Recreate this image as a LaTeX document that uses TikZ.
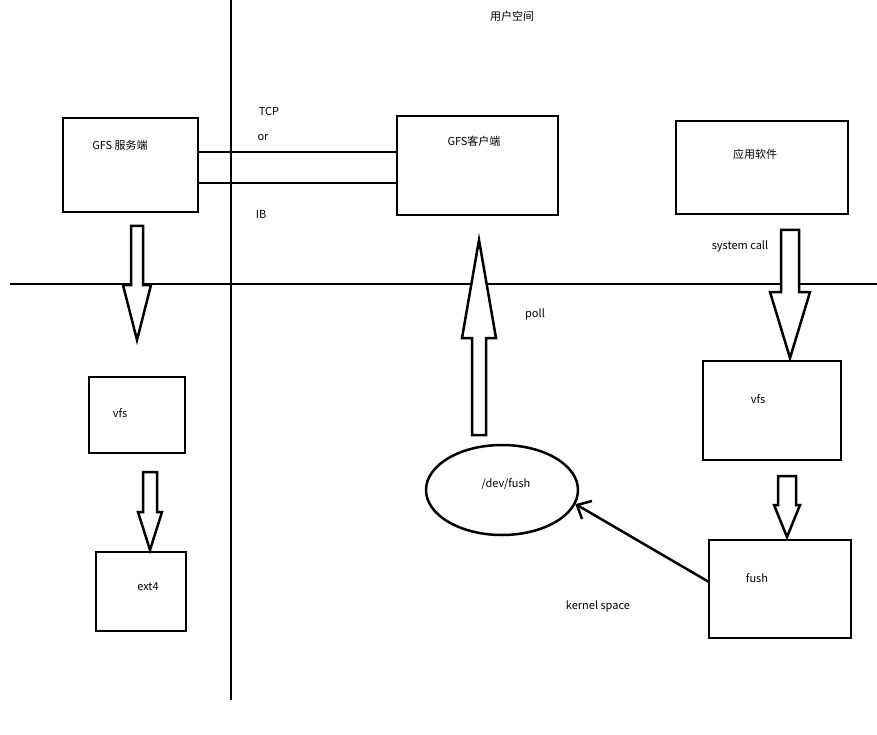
\documentclass[tikz,border=0pt]{standalone}
\usepackage{fontspec}
\setmainfont{Noto Sans CJK SC}
\begin{document}
\begin{tikzpicture}[x=1pt,y=-1pt,
 box/.style={draw,line width=2.5pt,minimum width=0,inner sep=0},
 lbl/.style={font=\fontsize{11}{13}\selectfont,inner sep=0},
 hol/.style={draw,line width=2.5pt,fill=white,line join=miter}]
\useasboundingbox (0,0) rectangle (877,735);
\newcommand{\harrow}[6]{% x, ytail, yheadstart, ytip, halfshaft, halfhead
 \draw[hol] (#1-#5,#2) -- (#1+#5,#2) -- (#1+#5,#3) -- (#1+#6,#3) -- (#1,#4) -- (#1-#6,#3) -- (#1-#5,#3) -- cycle;}
\draw[line width=2.5pt] (231,0) -- (231,700);
\draw[line width=2.5pt] (10,284) -- (877,284);
\draw[box] (63,118) rectangle (198,212) node[pos=0] (srv) {};
\draw[box] (397,116) rectangle (558,215) node[pos=0] (cli) {};
\draw[box] (676,121) rectangle (848,214) node[pos=0] (app) {};
\draw[box] (89,377) rectangle (185,453) node[pos=0] (vfsl) {};
\draw[box] (96,552) rectangle (186,631) node[pos=0] (ext) {};
\draw[box] (703,361) rectangle (841,460) node[pos=0] (vfsr) {};
\draw[box] (709,540) rectangle (851,638) node[pos=0] (fush) {};
\draw[line width=2.5pt] (502,490) ellipse [x radius=76,y radius=45];
\node[lbl] (t1) at (120,145) {GFS 服务端};
\node[lbl] (t2) at (474,141) {GFS客户端};
\node[lbl] (t3) at (755,154) {应用软件};
\node[lbl] (t4) at (120,413) {vfs};
\node[lbl] (t5) at (148,587) {ext4};
\node[lbl] (t6) at (758,399) {vfs};
\node[lbl] (t7) at (757,578) {fush};
\node[lbl] (dev) at (506,484) {/dev/fush};
\node[lbl] at (269,111) {TCP};
\node[lbl] at (263,138) {or};
\node[lbl] at (261,214) {IB};
\node[lbl] at (512,16) {用户空间};
\node[lbl] at (535,314) {poll};
\node[lbl] at (740,246) {system call};
\node[lbl] at (598,606) {kernel space};
\draw[line width=2.5pt] (198,152) -- (397,152);
\draw[line width=2.5pt] (198,183) -- (397,183);
\harrow{137}{226}{285}{340}{6}{14}
\harrow{479}{435}{338}{240}{7}{17}
\harrow{790}{230}{292}{358}{9}{20}
\harrow{150}{472}{512}{550}{7}{12}
\harrow{787}{476}{505}{537}{9}{13}
\coordinate (fa) at (709,582);
\coordinate (ea) at (577,505);
\draw[line width=2.5pt] (fa) -- (ea);
\draw[line width=2.5pt] (582,519) -- (577,505) -- (592,501);
\end{tikzpicture}
\end{document}
